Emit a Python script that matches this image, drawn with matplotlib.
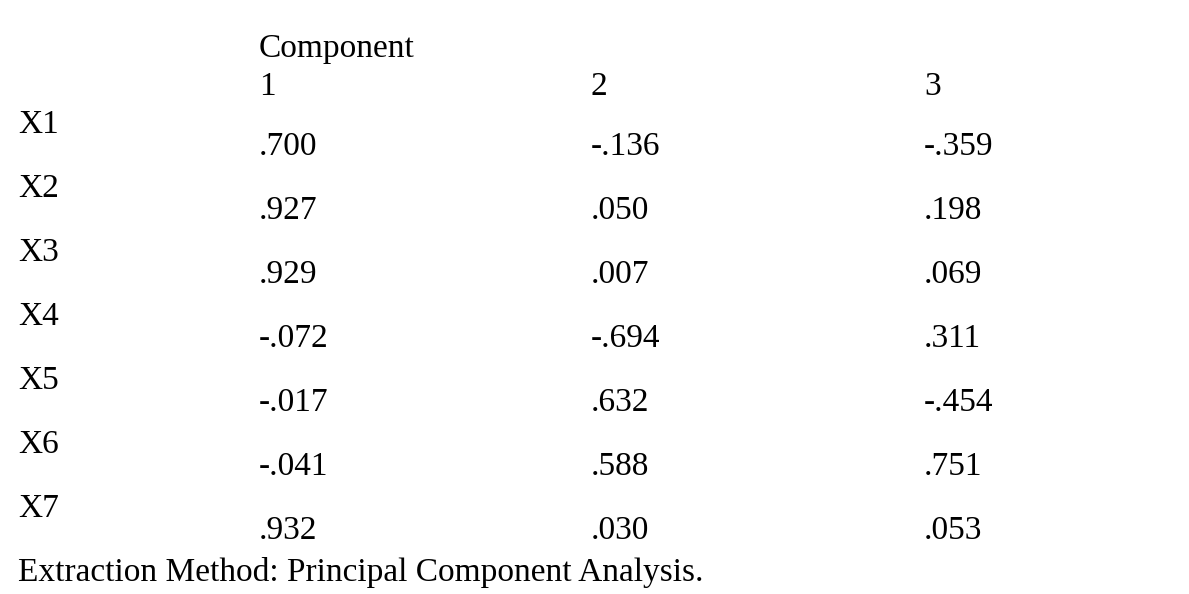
import matplotlib
matplotlib.use("Agg")
import matplotlib.pyplot as plt

W, H = 1189, 594

header = "Component"
components = ["1", "2", "3"]
variables = ["X1", "X2", "X3", "X4", "X5", "X6", "X7"]
comp1 = [".700", ".927", ".929", "-.072", "-.017", "-.041", ".932"]
comp2 = ["-.136", ".050", ".007", "-.694", ".632", ".588", ".030"]
comp3 = ["-.359", ".198", ".069", ".311", "-.454", ".751", ".053"]
footer = "Extraction Method: Principal Component Analysis."

fig = plt.figure(figsize=(W / 100, H / 100), dpi=100)
fig.patch.set_facecolor("white")

fs = 24
font = dict(family=["Liberation Serif", "DejaVu Serif"], fontsize=fs, color="black", va="baseline", ha="left")

def put(x, y, s):
    # x, y in pixels from top-left, y is baseline
    fig.text(x / W, 1 - y / H, s, **font)

col_x = [259, 591, 924]
label_x = 18
row_step = 64

put(col_x[0], 57, header)
for x, c in zip(col_x, components):
    put(x, 95, c)

for i, v in enumerate(variables):
    put(label_x, 133 + i * row_step, v)
    yv = 155 + i * row_step
    for x, col in zip(col_x, [comp1, comp2, comp3]):
        put(x, yv, col[i])

put(label_x, 581, footer)

fig.savefig("out.png", dpi=100, facecolor="white")
